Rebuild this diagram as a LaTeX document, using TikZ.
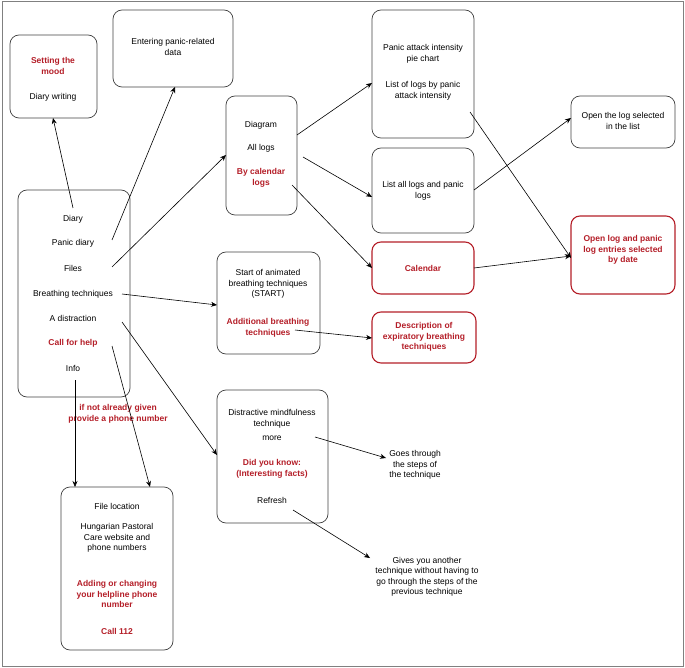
\documentclass[tikz,border=0pt]{standalone}
\usepackage{fontspec}
\setmainfont{Liberation Sans}
\usetikzlibrary{arrows.meta}
\definecolor{dred}{RGB}{180,30,40}
\begin{document}
\begin{tikzpicture}[x=1pt,y=-1pt,
  box/.style={draw=black!75,rounded corners=9pt,line width=0.7pt},
  rbox/.style={draw=dred,rounded corners=9pt,line width=1.1pt},
  t/.style={font=\fontsize{8.5}{10.5}\selectfont,align=center,inner sep=0pt},
  r/.style={t,text=dred,font=\fontsize{8.5}{10.5}\selectfont\bfseries},
  ar/.style={-{Stealth[length=6pt,width=5pt]},line width=0.6pt}]
\useasboundingbox (0,0) rectangle (685,668);
\draw[black!50,line width=1pt] (2,2) rectangle (683,666);
% boxes
\draw[box] (10,35) rectangle (97,118);
\draw[box] (113,10) rectangle (233,87);
\draw[box] (226,96) rectangle (297,215);
\draw[box] (372,10) rectangle (474,138);
\draw[box] (372,148) rectangle (474,233);
\draw[box] (571,96) rectangle (675,148);
\draw[rbox] (372,242) rectangle (474,294);
\draw[rbox] (571,216) rectangle (675,294);
\draw[box] (18,190) rectangle (130,397);
\draw[box] (217,252) rectangle (320,354);
\draw[rbox] (372,312) rectangle (476,363);
\draw[box] (217,390) rectangle (328,523);
\draw[box] (61,487) rectangle (173,650);
% texts
\node[r] (mood) at (53,66) {Setting the\\mood};
\node[t] (dw) at (53,97) {Diary writing};
\node[t] (ent) at (173,47) {Entering panic-related\\data};
\node[t] (dg) at (261,125) {Diagram};
\node[t] (al) at (261,148) {All logs};
\node[r] (bc) at (261,178) {By calendar\\logs};
\node[t] (pie) at (423,54) {Panic attack intensity\\pie chart};
\node[t] (lst) at (423,91) {List of logs by panic\\attack intensity};
\node[t] (lal) at (423,191) {List all logs and panic\\logs};
\node[t] (ols) at (623,121) {Open the log selected\\in the list};
\node[r] (cal) at (423,268) {Calendar};
\node[r] (old) at (623,250) {Open log and panic\\log entries selected\\by date};
\node[t] (m1) at (73,219) {Diary};
\node[t] (m2) at (73,243) {Panic diary};
\node[t] (m3) at (73,268) {Files};
\node[t] (m4) at (73,294) {Breathing techniques};
\node[t] (m5) at (73,318) {A distraction};
\node[r] (m6) at (73,343) {Call for help};
\node[t] (m7) at (73,368) {Info};
\node[t] (st) at (268,284) {Start of animated\\breathing techniques\\(START)};
\node[r] (ab) at (268,328) {Additional breathing\\techniques};
\node[r] (de) at (424,337) {Description of\\expiratory breathing\\techniques};
\node[t] (dm) at (272,419) {Distractive mindfulness\\technique};
\node[t] (mo) at (272,438) {more};
\node[r] (dy) at (272,469) {Did you know:\\(Interesting facts)};
\node[t] (rf) at (272,500) {Refresh};
\node[t] (fl) at (117,506) {File location};
\node[t] (hp) at (117,538) {Hungarian Pastoral\\Care website and\\phone numbers};
\node[r] (ad) at (117,594) {Adding or changing\\your helpline phone\\number};
\node[r] (c112) at (117,631) {Call 112};
\node[r] (if) at (118,414) {if not already given\\provide a phone number};
\node[t] (gs) at (415,465) {Goes through\\the steps of\\the technique};
\node[t] (ga) at (427,577) {Gives you another\\technique without having to\\go through the steps of the\\previous technique};
% connector end coordinates
\coordinate (p1) at (73,208); \coordinate (q1) at (53,118);
\coordinate (p2) at (112,240); \coordinate (q2) at (175,87);
\coordinate (p3) at (112,267); \coordinate (q3) at (226,155);
\coordinate (p4) at (122,294); \coordinate (q4) at (217,305);
\coordinate (p5) at (122,322); \coordinate (q5) at (217,455);
\coordinate (p6) at (112,346); \coordinate (q6) at (150,487);
\coordinate (p7) at (75,380); \coordinate (q7) at (75,487);
\coordinate (p8) at (297,135); \coordinate (q8) at (372,83);
\coordinate (p9) at (303,157); \coordinate (q9) at (372,197);
\coordinate (p10) at (292,185); \coordinate (q10) at (372,268);
\coordinate (p11) at (470,112); \coordinate (q11) at (571,258);
\coordinate (p12) at (474,190); \coordinate (q12) at (571,118);
\coordinate (p13) at (474,268); \coordinate (q13) at (571,256);
\coordinate (p14) at (295,330); \coordinate (q14) at (372,338);
\coordinate (p15) at (315,437); \coordinate (q15) at (386,458);
\coordinate (p16) at (293,510); \coordinate (q16) at (370,558);
\foreach \i in {1,...,16} \draw[ar] (p\i) -- (q\i);
\end{tikzpicture}
\end{document}
